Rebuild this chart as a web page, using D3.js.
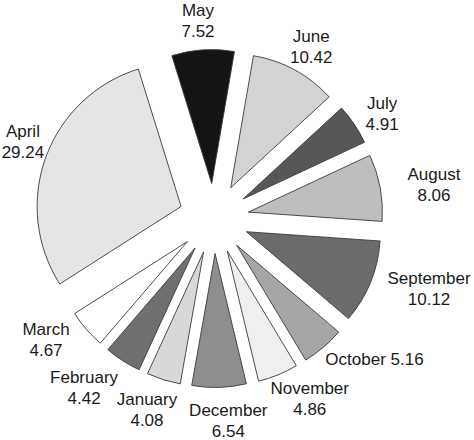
<!DOCTYPE html>
<html>
<head>
<meta charset="utf-8">
<script src="https://cdn.jsdelivr.net/npm/d3@7"></script>
<style>
  html, body { margin: 0; padding: 0; background: #fff; }
  svg { display: block; }
  text { font-family: "Liberation Sans", Arial, Helvetica, sans-serif; font-size: 17px; fill: #1a1a1a; }
</style>
</head>
<body>
<svg id="chart" width="474" height="440"></svg>
<script>
// ---- data ----
const months = ["May", "June", "July", "August", "September", "October",
                "November", "December", "January", "February", "March", "April"];
const values = [7.52, 10.42, 4.91, 8.06, 10.12, 5.16, 4.86, 6.54, 4.08, 4.42, 4.67, 29.24];
const valueLabels = ["7.52", "10.42", "4.91", "8.06", "10.12", "5.16",
                     "4.86", "6.54", "4.08", "4.42", "4.67", "29.24"];

// ---- styles / layout ----
const fills = ["#141414", "#d3d3d3", "#575757", "#bebebe", "#6b6b6b", "#a6a6a6",
               "#efefef", "#8e8e8e", "#d8d8d8", "#6f6f6f", "#ffffff", "#e4e5e7"];
const cx = 214, cy = 218.5;
const radius = 134, bigRadius = 144, explode = 35;
const deg = Math.PI / 180;
const startAngle = -17.3 * deg;
// label placement: [angle offset (deg) from slice mid, distance from centre, single line?]
const labelLayout = {
  May: [-1.0, 192.5], June: [1.8, 192.5], July: [3.3, 195.2], August: [3.4, 221.7],
  September: [-2.7, 228.1], October: [-7.3, 217.3, true], November: [-5.0, 209],
  December: [-2.2, 208], January: [1.4, 208.3], February: [4.0, 217.6],
  March: [3.8, 210.8], April: [0.2, 203.7]
};
const lineGap = 21;

const svg = d3.select("#chart");
const g = svg.append("g").attr("transform", `translate(${cx},${cy})`);

const data = months.map((m, i) => ({ month: m, value: values[i], label: valueLabels[i], fill: fills[i] }));

const pie = d3.pie().sort(null).value(d => d.value)
  .startAngle(startAngle).endAngle(startAngle + 2 * Math.PI);
const arcs = pie(data);

const arcGen = d3.arc().innerRadius(0)
  .outerRadius(d => d.data.month === "April" ? bigRadius : radius);

g.selectAll("path.slice")
  .data(arcs)
  .join("path")
  .attr("class", "slice")
  .attr("transform", d => {
    const a = (d.startAngle + d.endAngle) / 2;
    return `translate(${explode * Math.sin(a)},${-explode * Math.cos(a)})`;
  })
  .attr("d", arcGen)
  .attr("fill", d => d.data.fill)
  .attr("stroke", "#3a3a3a")
  .attr("stroke-width", 0.9)
  .attr("stroke-linejoin", "miter");

const labels = g.selectAll("g.lab")
  .data(arcs)
  .join("g")
  .attr("class", "lab")
  .attr("transform", d => {
    const lay = labelLayout[d.data.month];
    const a = (d.startAngle + d.endAngle) / 2 + lay[0] * deg;
    return `translate(${lay[1] * Math.sin(a)},${-lay[1] * Math.cos(a)})`;
  });

labels.each(function(d) {
  const sel = d3.select(this);
  const lay = labelLayout[d.data.month];
  if (lay[2]) {
    sel.append("text").attr("text-anchor", "middle").attr("y", 0)
      .text(d.data.month + " " + d.data.label);
  } else {
    sel.append("text").attr("text-anchor", "middle").attr("y", -lineGap / 2).text(d.data.month);
    sel.append("text").attr("text-anchor", "middle").attr("y", lineGap / 2).text(d.data.label);
  }
});
</script>
</body>
</html>
